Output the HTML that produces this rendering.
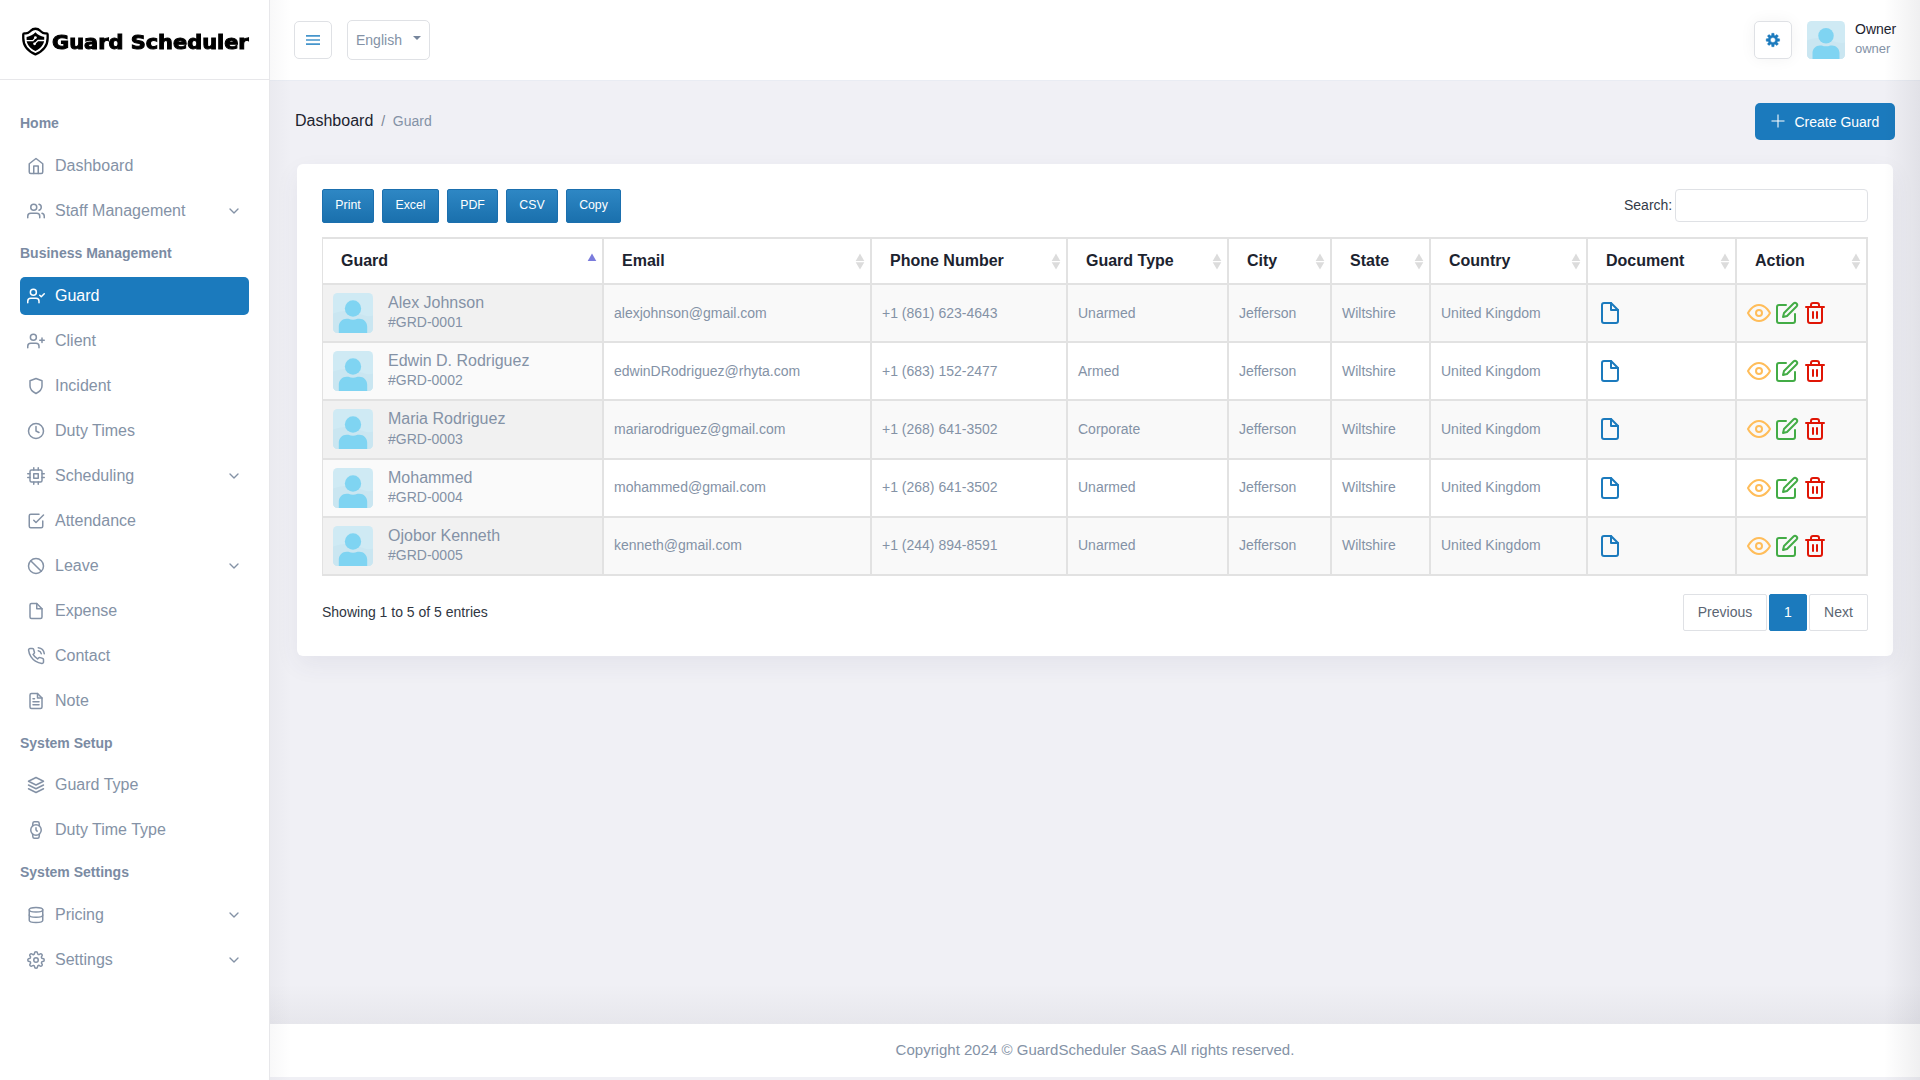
<!DOCTYPE html>
<html lang="en"><head><meta charset="utf-8"><title>Guard</title>
<style>
*{box-sizing:border-box}
html,body{margin:0;padding:0}
body{width:1920px;height:1080px;overflow:hidden;background:#f0f0f5;font-family:"Liberation Sans",sans-serif;font-size:14px;line-height:1.5;color:#1c232f;position:relative}
a{text-decoration:none;color:inherit}
.sidebar{position:absolute;left:0;top:0;width:270px;height:1080px;background:#fff;border-right:1px solid #e7e7ea;z-index:3}
.logo{position:absolute;left:0;top:0;width:269px;height:80px;border-bottom:1px solid #e7e7ea}
.logo svg{position:absolute}
.logo .lt{position:absolute;left:52px;top:30px;font-family:"DejaVu Sans",sans-serif;font-weight:bold;font-size:19px;line-height:24px;color:#000;white-space:nowrap;-webkit-text-stroke:1px #000;transform:scaleX(1.1);transform-origin:0 0;will-change:transform}
.cap{position:absolute;left:20px;font-weight:bold;font-size:14px;line-height:22px;color:#7b8ba3;white-space:nowrap}
.mi{position:absolute;left:20px;width:229px;height:38px;border-radius:5px;color:#8492a6;font-size:16px;line-height:38px;display:block;white-space:nowrap}
.mi .fi{position:absolute;left:7px;top:10px}
.mi span{position:absolute;left:35px;top:0}
.mi .chev{position:absolute;left:205.5px;top:10.5px}
.mi.act{background:#1b7abd;color:#fff}
.header{position:absolute;left:270px;top:0;width:1650px;height:80px;background:#fff;box-shadow:0 1px 0 0 #e9ecf3;z-index:2}
.hbtn{position:absolute;top:21px;width:38px;height:38px;border:1px solid #dfe1e5;border-radius:5px;background:#fff}
.lang{position:absolute;left:77px;top:20px;width:83px;height:40px;border:1px solid #dfe1e5;border-radius:5px;color:#8492a6;font-size:14px;line-height:38px;padding-left:8px}
.lang i{position:absolute;left:65px;top:15.300px;width:0;height:0;border-left:4px solid transparent;border-right:4px solid transparent;border-top:4px solid #76859c}
.uname{position:absolute;left:1585px;top:19px;font-size:14px;line-height:21px;color:#1c232f}
.urole{position:absolute;left:1585px;top:38.5px;font-size:13px;line-height:20px;color:#8492a6}
.bc{position:absolute;left:295px;top:103px;height:36px;line-height:36px;white-space:nowrap}
.bc b{font-weight:normal;font-size:16px;color:#1c232f}
.bc i{font-style:normal;color:#7b8494;margin:0 7.700px 0 8px}
.bc span{color:#8492a6}
.create{position:absolute;left:1755px;top:103px;width:140px;height:37px;border-radius:5px;background:#1b7abd;color:#fff;font-size:14px;line-height:37px}
.create svg{position:absolute;left:16.100px;top:11.100px}
.create span{position:absolute;left:39.5px;top:0.5px}
.card{position:absolute;left:297px;top:164px;width:1596px;height:492px;background:#fff;border-radius:6px;box-shadow:0 9px 24px rgba(60,65,110,.065)}
.dtb{position:absolute;top:25px;height:34px;border:1px solid #1b6fae;border-radius:2px;background:linear-gradient(to bottom,#2e87c4 0%,#1a70ad 100%);color:#fff;font-size:12.32px;line-height:30px;text-align:center}
.srch{position:absolute;left:1327px;top:31px;font-size:14px;line-height:21px;color:#333b48}
.sin{position:absolute;left:1378px;top:25px;width:193px;height:33px;border:1px solid #dfe1e5;border-radius:4px}
table{position:absolute;left:25px;top:73px;width:1546px;border-collapse:separate;border-spacing:0;border:1px solid #e2e2e2;table-layout:fixed}
th,td{border:1px solid #e2e2e2;border-left-width:0}
th{border-top:1px solid #e2e2e2}
th + th, td + td{border-left:1px solid #e2e2e2}
th{position:relative;text-align:left;font-size:16px;font-weight:bold;line-height:24px;padding:10px 18px;height:46px;color:#1c232f;background:#fff;white-space:nowrap}
th .sa{position:absolute;right:4.800px;top:13.800px}
td{padding:8px 10px;color:#8492a6;font-size:14px;line-height:21px;height:58.2px;vertical-align:middle;white-space:nowrap;border-top-width:1px}
tr.odd td{background:#f9f9f9}
tr.odd td.sorting_1{background:#f1f1f1}
tr.even td{background:#fff}
tr.even td.sorting_1{background:#fafafa}
.g{display:flex;align-items:center;height:40.2px}
.avw{display:block;flex:none;border-radius:4.5px;overflow:hidden}.av{display:block}
.gt{margin-left:15px}
.gt h6{margin:0;font-size:16px;font-weight:normal;line-height:19.2px;color:#8492a6}
.gt p{margin:0;font-size:14px;line-height:21px}
td.ic{line-height:0;font-size:14px}
td.ic span{display:inline-block;width:24px;height:24px;vertical-align:middle}
.ai{display:block}
.c-pri{color:#1b7abd}.c-warn{color:#ffbd5a}.c-suc{color:#43ac46}.c-dan{color:#e01505}
.info{position:absolute;left:25px;top:438px;font-size:14px;line-height:21px;color:#2f3642}
.pg{position:absolute;top:430px;height:37px;border:1px solid #dfe1e5;background:#fff;color:#5b6573;font-size:14px;line-height:35px;text-align:center;border-radius:2px}
.pg.on{background:#1b7abd;border-color:#1b7abd;color:#fff}
.footer{position:absolute;left:270px;top:1024px;width:1650px;height:53px;background:#fff;text-align:center;font-size:15px;line-height:52px;color:#8492a6}
.shr{position:absolute;left:1884px;top:0;width:36px;height:1080px;background:linear-gradient(to right,rgba(20,20,40,0),rgba(20,20,40,.065));z-index:9;pointer-events:none}
.shb{position:absolute;left:270px;top:984px;width:1650px;height:40px;background:linear-gradient(to bottom,rgba(20,20,40,0),rgba(20,20,40,.045));pointer-events:none}
.shl{position:absolute;left:270px;top:0;width:22px;height:1080px;background:linear-gradient(to right,rgba(20,20,40,.028),rgba(20,20,40,0));z-index:9;pointer-events:none}
</style></head>
<body>
<div class="shb"></div><div class="shr"></div><div class="shl"></div>
<div class="sidebar">
<div class="logo">
<svg width="40" height="40" viewBox="16 22 40 40" style="left:16px;top:22px"><path d="M35.45 28.75C37.800 28.75 39 29.600 40.200 30.800S42.600 33.3 45 33.3H46.5Q47.65 33.3 47.65 34.4V38C47.65 45.5 43 51.2 35.45 54.35C27.9 51.2 23.25 45.5 23.25 38V34.4Q23.25 33.3 24.4 33.3H25.9C28.300 33.3 29.500 32 30.700 30.800S33.100 28.75 35.45 28.75Z" fill="none" stroke="#000" stroke-width="2.300" stroke-linejoin="round"/><path d="M35.4 32.3C37.600 34.600 40.6 36.5 44.2 37V40C44.2 44 41 48.5 35.4 51.100C29.800 48.5 26.6 44 26.6 40V37C30.200 36.5 33.200 34.600 35.4 32.3Z" fill="#000"/><path d="M26 40.600H32.900L35.3 37.900M45 40.5H38L34.800 43.600" fill="none" stroke="#fff" stroke-width="1.300"/><circle cx="35.4" cy="37.600" r="1.400" fill="#fff"/><circle cx="34.600" cy="43.800" r="1.400" fill="#fff"/></svg>
<div class="lt">Guard Scheduler</div>
</div>
<div class="cap" style="top:112px">Home</div>
<a class="mi" style="top:147px"><svg class="fi" width="18" height="18" viewBox="0 0 24 24" fill="none" stroke="currentColor" stroke-width="2" stroke-linecap="round" stroke-linejoin="round"><path d="M3 9l9-7 9 7v11a2 2 0 0 1-2 2H5a2 2 0 0 1-2-2z"/><polyline points="9 22 9 12 15 12 15 22"/></svg><span>Dashboard</span></a>
<a class="mi" style="top:192px"><svg class="fi" width="18" height="18" viewBox="0 0 24 24" fill="none" stroke="currentColor" stroke-width="2" stroke-linecap="round" stroke-linejoin="round"><path d="M17 21v-2a4 4 0 0 0-4-4H5a4 4 0 0 0-4 4v2"/><circle cx="9" cy="7" r="4"/><path d="M23 21v-2a4 4 0 0 0-3-3.87"/><path d="M16 3.13a4 4 0 0 1 0 7.75"/></svg><span>Staff Management</span><svg class="chev" width="16" height="16" viewBox="0 0 24 24" fill="none" stroke="currentColor" stroke-width="2" stroke-linecap="round" stroke-linejoin="round"><polyline points="6 9 12 15 18 9"/></svg></a>
<div class="cap" style="top:242px">Business Management</div>
<a class="mi act" style="top:277px"><svg class="fi" width="18" height="18" viewBox="0 0 24 24" fill="none" stroke="currentColor" stroke-width="2" stroke-linecap="round" stroke-linejoin="round"><path d="M16 21v-2a4 4 0 0 0-4-4H5a4 4 0 0 0-4 4v2"/><circle cx="8.5" cy="7" r="4"/><polyline points="17 11 19 13 23 9"/></svg><span>Guard</span></a>
<a class="mi" style="top:322px"><svg class="fi" width="18" height="18" viewBox="0 0 24 24" fill="none" stroke="currentColor" stroke-width="2" stroke-linecap="round" stroke-linejoin="round"><path d="M16 21v-2a4 4 0 0 0-4-4H5a4 4 0 0 0-4 4v2"/><circle cx="8.5" cy="7" r="4"/><line x1="20" y1="8" x2="20" y2="14"/><line x1="23" y1="11" x2="17" y2="11"/></svg><span>Client</span></a>
<a class="mi" style="top:367px"><svg class="fi" width="18" height="18" viewBox="0 0 24 24" fill="none" stroke="currentColor" stroke-width="2" stroke-linecap="round" stroke-linejoin="round"><path d="M12 22s8-4 8-10V5l-8-3-8 3v7c0 6 8 10 8 10z"/></svg><span>Incident</span></a>
<a class="mi" style="top:412px"><svg class="fi" width="18" height="18" viewBox="0 0 24 24" fill="none" stroke="currentColor" stroke-width="2" stroke-linecap="round" stroke-linejoin="round"><circle cx="12" cy="12" r="10"/><polyline points="12 6 12 12 16 14"/></svg><span>Duty Times</span></a>
<a class="mi" style="top:457px"><svg class="fi" width="18" height="18" viewBox="0 0 24 24" fill="none" stroke="currentColor" stroke-width="2" stroke-linecap="round" stroke-linejoin="round"><rect x="4" y="4" width="16" height="16" rx="2" ry="2"/><rect x="9" y="9" width="6" height="6"/><line x1="9" y1="1" x2="9" y2="4"/><line x1="15" y1="1" x2="15" y2="4"/><line x1="9" y1="20" x2="9" y2="23"/><line x1="15" y1="20" x2="15" y2="23"/><line x1="20" y1="9" x2="23" y2="9"/><line x1="20" y1="14" x2="23" y2="14"/><line x1="1" y1="9" x2="4" y2="9"/><line x1="1" y1="14" x2="4" y2="14"/></svg><span>Scheduling</span><svg class="chev" width="16" height="16" viewBox="0 0 24 24" fill="none" stroke="currentColor" stroke-width="2" stroke-linecap="round" stroke-linejoin="round"><polyline points="6 9 12 15 18 9"/></svg></a>
<a class="mi" style="top:502px"><svg class="fi" width="18" height="18" viewBox="0 0 24 24" fill="none" stroke="currentColor" stroke-width="2" stroke-linecap="round" stroke-linejoin="round"><polyline points="9 11 12 14 22 4"/><path d="M21 12v7a2 2 0 0 1-2 2H5a2 2 0 0 1-2-2V5a2 2 0 0 1 2-2h11"/></svg><span>Attendance</span></a>
<a class="mi" style="top:547px"><svg class="fi" width="18" height="18" viewBox="0 0 24 24" fill="none" stroke="currentColor" stroke-width="2" stroke-linecap="round" stroke-linejoin="round"><circle cx="12" cy="12" r="10"/><line x1="4.93" y1="4.93" x2="19.07" y2="19.07"/></svg><span>Leave</span><svg class="chev" width="16" height="16" viewBox="0 0 24 24" fill="none" stroke="currentColor" stroke-width="2" stroke-linecap="round" stroke-linejoin="round"><polyline points="6 9 12 15 18 9"/></svg></a>
<a class="mi" style="top:592px"><svg class="fi" width="18" height="18" viewBox="0 0 24 24" fill="none" stroke="currentColor" stroke-width="2" stroke-linecap="round" stroke-linejoin="round"><path d="M13 2H6a2 2 0 0 0-2 2v16a2 2 0 0 0 2 2h12a2 2 0 0 0 2-2V9z"/><polyline points="13 2 13 9 20 9"/></svg><span>Expense</span></a>
<a class="mi" style="top:637px"><svg class="fi" width="18" height="18" viewBox="0 0 24 24" fill="none" stroke="currentColor" stroke-width="2" stroke-linecap="round" stroke-linejoin="round"><path d="M15.05 5A5 5 0 0 1 19 8.95M15.05 1A9 9 0 0 1 23 8.94m-1 7.98v3a2 2 0 0 1-2.18 2 19.79 19.79 0 0 1-8.63-3.07 19.5 19.5 0 0 1-6-6 19.79 19.79 0 0 1-3.07-8.67A2 2 0 0 1 4.11 2h3a2 2 0 0 1 2 1.72 12.84 12.84 0 0 0 .7 2.81 2 2 0 0 1-.45 2.11L8.09 9.91a16 16 0 0 0 6 6l1.27-1.27a2 2 0 0 1 2.11-.45 12.84 12.84 0 0 0 2.81.7A2 2 0 0 1 22 16.92z"/></svg><span>Contact</span></a>
<a class="mi" style="top:682px"><svg class="fi" width="18" height="18" viewBox="0 0 24 24" fill="none" stroke="currentColor" stroke-width="2" stroke-linecap="round" stroke-linejoin="round"><path d="M14 2H6a2 2 0 0 0-2 2v16a2 2 0 0 0 2 2h12a2 2 0 0 0 2-2V8z"/><polyline points="14 2 14 8 20 8"/><line x1="16" y1="13" x2="8" y2="13"/><line x1="16" y1="17" x2="8" y2="17"/><polyline points="10 9 9 9 8 9"/></svg><span>Note</span></a>
<div class="cap" style="top:732px">System Setup</div>
<a class="mi" style="top:766px"><svg class="fi" width="18" height="18" viewBox="0 0 24 24" fill="none" stroke="currentColor" stroke-width="2" stroke-linecap="round" stroke-linejoin="round"><polygon points="12 2 2 7 12 12 22 7 12 2"/><polyline points="2 17 12 22 22 17"/><polyline points="2 12 12 17 22 12"/></svg><span>Guard Type</span></a>
<a class="mi" style="top:811px"><svg class="fi" width="18" height="18" viewBox="0 0 24 24" fill="none" stroke="currentColor" stroke-width="2" stroke-linecap="round" stroke-linejoin="round"><circle cx="12" cy="12" r="7"/><polyline points="12 9 12 12 13.5 13.5"/><path d="M16.51 17.35l-.35 3.83a2 2 0 0 1-2 1.82H9.83a2 2 0 0 1-2-1.82l-.35-3.83m.01-10.7l.35-3.83A2 2 0 0 1 9.83 1h4.35a2 2 0 0 1 2 1.82l.35 3.83"/></svg><span>Duty Time Type</span></a>
<div class="cap" style="top:861px">System Settings</div>
<a class="mi" style="top:896px"><svg class="fi" width="18" height="18" viewBox="0 0 24 24" fill="none" stroke="currentColor" stroke-width="2" stroke-linecap="round" stroke-linejoin="round"><ellipse cx="12" cy="5" rx="9" ry="3"/><path d="M21 12c0 1.66-4 3-9 3s-9-1.34-9-3"/><path d="M3 5v14c0 1.66 4 3 9 3s9-1.34 9-3V5"/></svg><span>Pricing</span><svg class="chev" width="16" height="16" viewBox="0 0 24 24" fill="none" stroke="currentColor" stroke-width="2" stroke-linecap="round" stroke-linejoin="round"><polyline points="6 9 12 15 18 9"/></svg></a>
<a class="mi" style="top:941px"><svg class="fi" width="18" height="18" viewBox="0 0 24 24" fill="none" stroke="currentColor" stroke-width="2" stroke-linecap="round" stroke-linejoin="round"><circle cx="12" cy="12" r="3"/><path d="M19.4 15a1.65 1.65 0 0 0 .33 1.82l.06.06a2 2 0 0 1 0 2.83 2 2 0 0 1-2.83 0l-.06-.06a1.65 1.65 0 0 0-1.82-.33 1.65 1.65 0 0 0-1 1.51V21a2 2 0 0 1-2 2 2 2 0 0 1-2-2v-.09A1.65 1.65 0 0 0 9 19.4a1.65 1.65 0 0 0-1.82.33l-.06.06a2 2 0 0 1-2.83 0 2 2 0 0 1 0-2.83l.06-.06a1.65 1.65 0 0 0 .33-1.82 1.65 1.65 0 0 0-1.51-1H3a2 2 0 0 1-2-2 2 2 0 0 1 2-2h.09A1.65 1.65 0 0 0 4.6 9a1.65 1.65 0 0 0-.33-1.82l-.06-.06a2 2 0 0 1 0-2.83 2 2 0 0 1 2.83 0l.06.06a1.65 1.65 0 0 0 1.82.33H9a1.65 1.65 0 0 0 1-1.51V3a2 2 0 0 1 2-2 2 2 0 0 1 2 2v.09a1.65 1.65 0 0 0 1 1.51 1.65 1.65 0 0 0 1.82-.33l.06-.06a2 2 0 0 1 2.83 0 2 2 0 0 1 0 2.83l-.06.06a1.65 1.65 0 0 0-.33 1.82V9a1.65 1.65 0 0 0 1.51 1H21a2 2 0 0 1 2 2 2 2 0 0 1-2 2h-.09a1.65 1.65 0 0 0-1.51 1z"/></svg><span>Settings</span><svg class="chev" width="16" height="16" viewBox="0 0 24 24" fill="none" stroke="currentColor" stroke-width="2" stroke-linecap="round" stroke-linejoin="round"><polyline points="6 9 12 15 18 9"/></svg></a>
</div>
<div class="header">
<div class="hbtn" style="left:24px"><svg width="36" height="36" viewBox="0 0 36 36" style="position:absolute;left:0;top:0"><path d="M11 13.900h14M11 18h14M11 22.100h14" stroke="#4595cc" stroke-width="1.700" fill="none"/></svg></div>
<div class="lang">English<i></i></div>
<div class="hbtn" style="left:1484px;box-shadow:0 0 16px rgba(0,0,0,.05)"><svg width="36" height="36" viewBox="0 0 36 36" style="position:absolute;left:0;top:0"><path d="M16.51 13.51 L16.75 11.30 L19.05 11.30 L19.29 13.51 L20.09 13.84 L21.83 12.45 L23.45 14.07 L22.06 15.81 L22.39 16.61 L24.60 16.85 L24.60 19.15 L22.39 19.39 L22.06 20.19 L23.45 21.93 L21.83 23.55 L20.09 22.16 L19.29 22.49 L19.05 24.70 L16.75 24.70 L16.51 22.49 L15.71 22.16 L13.97 23.55 L12.35 21.93 L13.74 20.19 L13.41 19.39 L11.20 19.15 L11.20 16.85 L13.41 16.61 L13.74 15.81 L12.35 14.07 L13.97 12.45 L15.71 13.84Z M15.399999999999999 18 a2.5 2.5 0 1 0 5.0 0 a2.5 2.5 0 1 0 -5.0 0Z" fill="#1b7abd" fill-rule="evenodd" stroke="#1b7abd" stroke-width=".4" stroke-linejoin="round"/></svg></div>
<div style="position:absolute;left:1537px;top:21px"><span class="avw" style="width:38px;height:38px"><svg class="av" width="38" height="38" viewBox="0 0 40 40"><rect width="40" height="40" fill="#cfeaf4"/><path d="M0 20.5C8 17.5 16 17 24 20S36 24 40 22.5V40H0Z" fill="#cae6f1"/><circle cx="20" cy="15.500" r="8.150" fill="#7fd4f2"/><path d="M5.800 40V33.700C5.800 29.200 9.300 25.700 13.600 25.700h1.900Q20 27.700 24.500 25.700H26.400C30.700 25.700 34.200 29.200 34.200 33.700V40Z" fill="#7fd4f2"/></svg></span></div>
<div class="uname">Owner</div><div class="urole">owner</div>
</div>
<div class="bc"><b>Dashboard</b><i>/</i><span>Guard</span></div>
<a class="create"><svg width="14" height="14" viewBox="0 0 14 14"><path d="M7 .5v13M.5 7h13" stroke="#fff" stroke-width="1.050" fill="none"/></svg><span>Create Guard</span></a>
<div class="card">
<div class="dtb" style="left:25px;width:52px">Print</div>
<div class="dtb" style="left:85px;width:57px">Excel</div>
<div class="dtb" style="left:150px;width:51px">PDF</div>
<div class="dtb" style="left:209px;width:52px">CSV</div>
<div class="dtb" style="left:269px;width:55px">Copy</div>
<div class="srch">Search:</div><div class="sin"></div>
<table>
<colgroup><col style="width:280px"><col style="width:268px"><col style="width:196px"><col style="width:161px"><col style="width:103px"><col style="width:99px"><col style="width:157px"><col style="width:149px"><col style="width:131px"></colgroup>
<thead><tr><th>Guard<svg class="sa" width="10" height="18" viewBox="0 0 10 18"><polygon points="5,0.500 9.300,7.900 0.700,7.900" fill="#7a7bdc"/></svg></th><th>Email<svg class="sa" width="10" height="18" viewBox="0 0 10 18"><polygon points="5,0.600 9.300,7.900 0.700,7.900" fill="#dcdcdc"/><polygon points="0.700,9.300 9.300,9.300 5,16.600" fill="#dcdcdc"/></svg></th><th>Phone Number<svg class="sa" width="10" height="18" viewBox="0 0 10 18"><polygon points="5,0.600 9.300,7.900 0.700,7.900" fill="#dcdcdc"/><polygon points="0.700,9.300 9.300,9.300 5,16.600" fill="#dcdcdc"/></svg></th><th>Guard Type<svg class="sa" width="10" height="18" viewBox="0 0 10 18"><polygon points="5,0.600 9.300,7.900 0.700,7.900" fill="#dcdcdc"/><polygon points="0.700,9.300 9.300,9.300 5,16.600" fill="#dcdcdc"/></svg></th><th>City<svg class="sa" width="10" height="18" viewBox="0 0 10 18"><polygon points="5,0.600 9.300,7.900 0.700,7.900" fill="#dcdcdc"/><polygon points="0.700,9.300 9.300,9.300 5,16.600" fill="#dcdcdc"/></svg></th><th>State<svg class="sa" width="10" height="18" viewBox="0 0 10 18"><polygon points="5,0.600 9.300,7.900 0.700,7.900" fill="#dcdcdc"/><polygon points="0.700,9.300 9.300,9.300 5,16.600" fill="#dcdcdc"/></svg></th><th>Country<svg class="sa" width="10" height="18" viewBox="0 0 10 18"><polygon points="5,0.600 9.300,7.900 0.700,7.900" fill="#dcdcdc"/><polygon points="0.700,9.300 9.300,9.300 5,16.600" fill="#dcdcdc"/></svg></th><th>Document<svg class="sa" width="10" height="18" viewBox="0 0 10 18"><polygon points="5,0.600 9.300,7.900 0.700,7.900" fill="#dcdcdc"/><polygon points="0.700,9.300 9.300,9.300 5,16.600" fill="#dcdcdc"/></svg></th><th>Action<svg class="sa" width="10" height="18" viewBox="0 0 10 18"><polygon points="5,0.600 9.300,7.900 0.700,7.900" fill="#dcdcdc"/><polygon points="0.700,9.300 9.300,9.300 5,16.600" fill="#dcdcdc"/></svg></th></tr></thead>
<tbody>
<tr class="odd"><td class="sorting_1"><div class="g"><span class="avw" style="width:40px;height:40px"><svg class="av" width="40" height="40" viewBox="0 0 40 40"><rect width="40" height="40" fill="#cfeaf4"/><path d="M0 20.5C8 17.5 16 17 24 20S36 24 40 22.5V40H0Z" fill="#cae6f1"/><circle cx="20" cy="15.500" r="8.150" fill="#7fd4f2"/><path d="M5.800 40V33.700C5.800 29.200 9.300 25.700 13.600 25.700h1.900Q20 27.700 24.500 25.700H26.400C30.700 25.700 34.200 29.200 34.200 33.700V40Z" fill="#7fd4f2"/></svg></span><div class="gt"><h6>Alex Johnson</h6><p>#GRD-0001</p></div></div></td><td>alexjohnson@gmail.com</td><td>+1 (861) 623-4643</td><td>Unarmed</td><td>Jefferson</td><td>Wiltshire</td><td>United Kingdom</td><td class="ic"><span class="c-pri"><svg class="ai" width="24" height="24" viewBox="0 0 24 24" fill="none" stroke="currentColor" stroke-width="2" stroke-linecap="round" stroke-linejoin="round"><path d="M13 2H6a2 2 0 0 0-2 2v16a2 2 0 0 0 2 2h12a2 2 0 0 0 2-2V9z"/><polyline points="13 2 13 9 20 9"/></svg></span></td><td class="ic"><span class="c-warn"><svg class="ai" width="24" height="24" viewBox="0 0 24 24" fill="none" stroke="currentColor" stroke-width="2" stroke-linecap="round" stroke-linejoin="round"><path d="M1 12s4-8 11-8 11 8 11 8-4 8-11 8-11-8-11-8z"/><circle cx="12" cy="12" r="3"/></svg></span> <span class="c-suc"><svg class="ai" width="24" height="24" viewBox="0 0 24 24" fill="none" stroke="currentColor" stroke-width="2" stroke-linecap="round" stroke-linejoin="round"><path d="M11 4H4a2 2 0 0 0-2 2v14a2 2 0 0 0 2 2h14a2 2 0 0 0 2-2v-7"/><path d="M18.5 2.5a2.121 2.121 0 0 1 3 3L12 15l-4 1 1-4 9.5-9.5z"/></svg></span> <span class="c-dan"><svg class="ai" width="24" height="24" viewBox="0 0 24 24" fill="none" stroke="currentColor" stroke-width="2" stroke-linecap="round" stroke-linejoin="round"><polyline points="3 6 5 6 21 6"/><path d="M19 6v14a2 2 0 0 1-2 2H7a2 2 0 0 1-2-2V6m3 0V4a2 2 0 0 1 2-2h4a2 2 0 0 1 2 2v2"/><line x1="10" y1="11" x2="10" y2="17"/><line x1="14" y1="11" x2="14" y2="17"/></svg></span></td></tr>
<tr class="even"><td class="sorting_1"><div class="g"><span class="avw" style="width:40px;height:40px"><svg class="av" width="40" height="40" viewBox="0 0 40 40"><rect width="40" height="40" fill="#cfeaf4"/><path d="M0 20.5C8 17.5 16 17 24 20S36 24 40 22.5V40H0Z" fill="#cae6f1"/><circle cx="20" cy="15.500" r="8.150" fill="#7fd4f2"/><path d="M5.800 40V33.700C5.800 29.200 9.300 25.700 13.600 25.700h1.900Q20 27.700 24.500 25.700H26.400C30.700 25.700 34.200 29.200 34.200 33.700V40Z" fill="#7fd4f2"/></svg></span><div class="gt"><h6>Edwin D. Rodriguez</h6><p>#GRD-0002</p></div></div></td><td>edwinDRodriguez@rhyta.com</td><td>+1 (683) 152-2477</td><td>Armed</td><td>Jefferson</td><td>Wiltshire</td><td>United Kingdom</td><td class="ic"><span class="c-pri"><svg class="ai" width="24" height="24" viewBox="0 0 24 24" fill="none" stroke="currentColor" stroke-width="2" stroke-linecap="round" stroke-linejoin="round"><path d="M13 2H6a2 2 0 0 0-2 2v16a2 2 0 0 0 2 2h12a2 2 0 0 0 2-2V9z"/><polyline points="13 2 13 9 20 9"/></svg></span></td><td class="ic"><span class="c-warn"><svg class="ai" width="24" height="24" viewBox="0 0 24 24" fill="none" stroke="currentColor" stroke-width="2" stroke-linecap="round" stroke-linejoin="round"><path d="M1 12s4-8 11-8 11 8 11 8-4 8-11 8-11-8-11-8z"/><circle cx="12" cy="12" r="3"/></svg></span> <span class="c-suc"><svg class="ai" width="24" height="24" viewBox="0 0 24 24" fill="none" stroke="currentColor" stroke-width="2" stroke-linecap="round" stroke-linejoin="round"><path d="M11 4H4a2 2 0 0 0-2 2v14a2 2 0 0 0 2 2h14a2 2 0 0 0 2-2v-7"/><path d="M18.5 2.5a2.121 2.121 0 0 1 3 3L12 15l-4 1 1-4 9.5-9.5z"/></svg></span> <span class="c-dan"><svg class="ai" width="24" height="24" viewBox="0 0 24 24" fill="none" stroke="currentColor" stroke-width="2" stroke-linecap="round" stroke-linejoin="round"><polyline points="3 6 5 6 21 6"/><path d="M19 6v14a2 2 0 0 1-2 2H7a2 2 0 0 1-2-2V6m3 0V4a2 2 0 0 1 2-2h4a2 2 0 0 1 2 2v2"/><line x1="10" y1="11" x2="10" y2="17"/><line x1="14" y1="11" x2="14" y2="17"/></svg></span></td></tr>
<tr class="odd"><td class="sorting_1"><div class="g"><span class="avw" style="width:40px;height:40px"><svg class="av" width="40" height="40" viewBox="0 0 40 40"><rect width="40" height="40" fill="#cfeaf4"/><path d="M0 20.5C8 17.5 16 17 24 20S36 24 40 22.5V40H0Z" fill="#cae6f1"/><circle cx="20" cy="15.500" r="8.150" fill="#7fd4f2"/><path d="M5.800 40V33.700C5.800 29.200 9.300 25.700 13.600 25.700h1.900Q20 27.700 24.500 25.700H26.400C30.700 25.700 34.200 29.200 34.200 33.700V40Z" fill="#7fd4f2"/></svg></span><div class="gt"><h6>Maria Rodriguez</h6><p>#GRD-0003</p></div></div></td><td>mariarodriguez@gmail.com</td><td>+1 (268) 641-3502</td><td>Corporate</td><td>Jefferson</td><td>Wiltshire</td><td>United Kingdom</td><td class="ic"><span class="c-pri"><svg class="ai" width="24" height="24" viewBox="0 0 24 24" fill="none" stroke="currentColor" stroke-width="2" stroke-linecap="round" stroke-linejoin="round"><path d="M13 2H6a2 2 0 0 0-2 2v16a2 2 0 0 0 2 2h12a2 2 0 0 0 2-2V9z"/><polyline points="13 2 13 9 20 9"/></svg></span></td><td class="ic"><span class="c-warn"><svg class="ai" width="24" height="24" viewBox="0 0 24 24" fill="none" stroke="currentColor" stroke-width="2" stroke-linecap="round" stroke-linejoin="round"><path d="M1 12s4-8 11-8 11 8 11 8-4 8-11 8-11-8-11-8z"/><circle cx="12" cy="12" r="3"/></svg></span> <span class="c-suc"><svg class="ai" width="24" height="24" viewBox="0 0 24 24" fill="none" stroke="currentColor" stroke-width="2" stroke-linecap="round" stroke-linejoin="round"><path d="M11 4H4a2 2 0 0 0-2 2v14a2 2 0 0 0 2 2h14a2 2 0 0 0 2-2v-7"/><path d="M18.5 2.5a2.121 2.121 0 0 1 3 3L12 15l-4 1 1-4 9.5-9.5z"/></svg></span> <span class="c-dan"><svg class="ai" width="24" height="24" viewBox="0 0 24 24" fill="none" stroke="currentColor" stroke-width="2" stroke-linecap="round" stroke-linejoin="round"><polyline points="3 6 5 6 21 6"/><path d="M19 6v14a2 2 0 0 1-2 2H7a2 2 0 0 1-2-2V6m3 0V4a2 2 0 0 1 2-2h4a2 2 0 0 1 2 2v2"/><line x1="10" y1="11" x2="10" y2="17"/><line x1="14" y1="11" x2="14" y2="17"/></svg></span></td></tr>
<tr class="even"><td class="sorting_1"><div class="g"><span class="avw" style="width:40px;height:40px"><svg class="av" width="40" height="40" viewBox="0 0 40 40"><rect width="40" height="40" fill="#cfeaf4"/><path d="M0 20.5C8 17.5 16 17 24 20S36 24 40 22.5V40H0Z" fill="#cae6f1"/><circle cx="20" cy="15.500" r="8.150" fill="#7fd4f2"/><path d="M5.800 40V33.700C5.800 29.200 9.300 25.700 13.600 25.700h1.900Q20 27.700 24.500 25.700H26.400C30.700 25.700 34.200 29.200 34.200 33.700V40Z" fill="#7fd4f2"/></svg></span><div class="gt"><h6>Mohammed</h6><p>#GRD-0004</p></div></div></td><td>mohammed@gmail.com</td><td>+1 (268) 641-3502</td><td>Unarmed</td><td>Jefferson</td><td>Wiltshire</td><td>United Kingdom</td><td class="ic"><span class="c-pri"><svg class="ai" width="24" height="24" viewBox="0 0 24 24" fill="none" stroke="currentColor" stroke-width="2" stroke-linecap="round" stroke-linejoin="round"><path d="M13 2H6a2 2 0 0 0-2 2v16a2 2 0 0 0 2 2h12a2 2 0 0 0 2-2V9z"/><polyline points="13 2 13 9 20 9"/></svg></span></td><td class="ic"><span class="c-warn"><svg class="ai" width="24" height="24" viewBox="0 0 24 24" fill="none" stroke="currentColor" stroke-width="2" stroke-linecap="round" stroke-linejoin="round"><path d="M1 12s4-8 11-8 11 8 11 8-4 8-11 8-11-8-11-8z"/><circle cx="12" cy="12" r="3"/></svg></span> <span class="c-suc"><svg class="ai" width="24" height="24" viewBox="0 0 24 24" fill="none" stroke="currentColor" stroke-width="2" stroke-linecap="round" stroke-linejoin="round"><path d="M11 4H4a2 2 0 0 0-2 2v14a2 2 0 0 0 2 2h14a2 2 0 0 0 2-2v-7"/><path d="M18.5 2.5a2.121 2.121 0 0 1 3 3L12 15l-4 1 1-4 9.5-9.5z"/></svg></span> <span class="c-dan"><svg class="ai" width="24" height="24" viewBox="0 0 24 24" fill="none" stroke="currentColor" stroke-width="2" stroke-linecap="round" stroke-linejoin="round"><polyline points="3 6 5 6 21 6"/><path d="M19 6v14a2 2 0 0 1-2 2H7a2 2 0 0 1-2-2V6m3 0V4a2 2 0 0 1 2-2h4a2 2 0 0 1 2 2v2"/><line x1="10" y1="11" x2="10" y2="17"/><line x1="14" y1="11" x2="14" y2="17"/></svg></span></td></tr>
<tr class="odd"><td class="sorting_1"><div class="g"><span class="avw" style="width:40px;height:40px"><svg class="av" width="40" height="40" viewBox="0 0 40 40"><rect width="40" height="40" fill="#cfeaf4"/><path d="M0 20.5C8 17.5 16 17 24 20S36 24 40 22.5V40H0Z" fill="#cae6f1"/><circle cx="20" cy="15.500" r="8.150" fill="#7fd4f2"/><path d="M5.800 40V33.700C5.800 29.200 9.300 25.700 13.600 25.700h1.900Q20 27.700 24.500 25.700H26.400C30.700 25.700 34.200 29.200 34.200 33.700V40Z" fill="#7fd4f2"/></svg></span><div class="gt"><h6>Ojobor Kenneth</h6><p>#GRD-0005</p></div></div></td><td>kenneth@gmail.com</td><td>+1 (244) 894-8591</td><td>Unarmed</td><td>Jefferson</td><td>Wiltshire</td><td>United Kingdom</td><td class="ic"><span class="c-pri"><svg class="ai" width="24" height="24" viewBox="0 0 24 24" fill="none" stroke="currentColor" stroke-width="2" stroke-linecap="round" stroke-linejoin="round"><path d="M13 2H6a2 2 0 0 0-2 2v16a2 2 0 0 0 2 2h12a2 2 0 0 0 2-2V9z"/><polyline points="13 2 13 9 20 9"/></svg></span></td><td class="ic"><span class="c-warn"><svg class="ai" width="24" height="24" viewBox="0 0 24 24" fill="none" stroke="currentColor" stroke-width="2" stroke-linecap="round" stroke-linejoin="round"><path d="M1 12s4-8 11-8 11 8 11 8-4 8-11 8-11-8-11-8z"/><circle cx="12" cy="12" r="3"/></svg></span> <span class="c-suc"><svg class="ai" width="24" height="24" viewBox="0 0 24 24" fill="none" stroke="currentColor" stroke-width="2" stroke-linecap="round" stroke-linejoin="round"><path d="M11 4H4a2 2 0 0 0-2 2v14a2 2 0 0 0 2 2h14a2 2 0 0 0 2-2v-7"/><path d="M18.5 2.5a2.121 2.121 0 0 1 3 3L12 15l-4 1 1-4 9.5-9.5z"/></svg></span> <span class="c-dan"><svg class="ai" width="24" height="24" viewBox="0 0 24 24" fill="none" stroke="currentColor" stroke-width="2" stroke-linecap="round" stroke-linejoin="round"><polyline points="3 6 5 6 21 6"/><path d="M19 6v14a2 2 0 0 1-2 2H7a2 2 0 0 1-2-2V6m3 0V4a2 2 0 0 1 2-2h4a2 2 0 0 1 2 2v2"/><line x1="10" y1="11" x2="10" y2="17"/><line x1="14" y1="11" x2="14" y2="17"/></svg></span></td></tr>
</tbody></table>
<div class="info">Showing 1 to 5 of 5 entries</div>
<div class="pg" style="left:1386px;width:84px">Previous</div>
<div class="pg on" style="left:1472px;width:38px">1</div>
<div class="pg" style="left:1512px;width:59px">Next</div>
</div>
<div class="footer">Copyright 2024 © GuardScheduler SaaS All rights reserved.</div>
</body></html>
